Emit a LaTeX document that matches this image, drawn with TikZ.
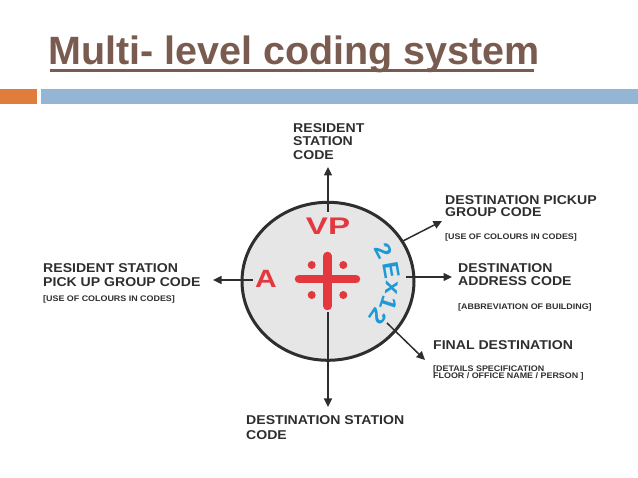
\documentclass[tikz,border=0pt]{standalone}
\usepackage{fontspec}
\usepackage{graphicx}
\setmainfont{Liberation Sans}
\newfontfamily\widefont[FakeStretch=1.1]{Liberation Sans}
\usetikzlibrary{arrows.meta,shapes.geometric}
\definecolor{titlebrown}{HTML}{7A5B4F}
\definecolor{barorange}{HTML}{E07D3C}
\definecolor{barblue}{HTML}{94B5D3}
\definecolor{txt}{HTML}{2E2E2E}
\definecolor{codered}{HTML}{E2383E}
\definecolor{codeblue}{HTML}{1C9AD6}
\definecolor{discfill}{HTML}{E6E6E6}
\tikzset{
  lab/.style={font=\widefont\bfseries\fontsize{12.8}{#1}\selectfont, text=txt, align=left, inner sep=0pt, anchor=north west},
  note/.style={font=\widefont\bfseries\fontsize{8.1}{#1}\selectfont, text=txt, align=left, inner sep=0pt, anchor=north west},
  conn/.style={draw=txt, line width=1.5pt, -{Triangle[length=8.5pt,width=8pt]}},
  bluech/.style={font=\widefont\bfseries\fontsize{22.5}{23}\selectfont, text=codeblue, inner sep=0pt},
  redch/.style={font=\bfseries\fontsize{24}{24}\selectfont, text=codered, inner sep=0pt},
  reddot/.style={fill=codered, draw=none}
}
\begin{document}
\begin{tikzpicture}[x=1pt,y=-1pt]
\useasboundingbox (0,0) rectangle (638,478);
% title
\node[font=\bfseries\fontsize{39.5}{40}\selectfont, text=titlebrown, anchor=base west, inner sep=0pt] (title) at (48,65) {Multi- level coding system};
\fill[titlebrown] (50,69) rectangle (534,72.5);
% bars
\fill[barorange] (0,89.5) rectangle (37,104.5);
\fill[barblue] (40.5,89.5) rectangle (638,104.5);
% disc
\node[ellipse, draw=txt, line width=3pt, fill=discfill, minimum width=172pt, minimum height=158pt, inner sep=0pt] (disc) at (328,281.3) {};
% connector ends
\coordinate (tS) at (328,212);
\coordinate (tE) at (328,167);
\coordinate (bS) at (328,312);
\coordinate (bE) at (328,407);
\coordinate (lS) at (253,280);
\coordinate (lE) at (213,280);
\coordinate (rS) at (406,277);
\coordinate (rE) at (452,277);
\coordinate (urS) at (401,242);
\coordinate (urE) at (442,221);
\coordinate (lrS) at (387,323);
\coordinate (lrE) at (425,360);
\draw[conn] (tS) -- (tE);
\draw[conn] (bS) -- (bE);
\draw[conn] (lS) -- (lE);
\draw[conn] (rS) -- (rE);
\draw[conn] (urS) -- (urE);
\draw[conn] (lrS) -- (lrE);
% red symbols
\node[redch] (vp) at (328,226) {\scalebox{1.38}[1]{VP}};
\node[redch, font=\bfseries\fontsize{25}{25}\selectfont] (a) at (266,279) {\scalebox{1.2}[1]{A}};
\draw[codered, line width=8.5pt, line cap=round] (299,279) -- (356,279);
\draw[codered, line width=8.5pt, line cap=round] (327.5,256) -- (327.5,306);
\fill[reddot] (311.7,265) circle (4);
\fill[reddot] (343.3,265) circle (4);
\fill[reddot] (311.7,295) circle (4);
\fill[reddot] (343.3,295) circle (4);
% blue code along arc
\node[bluech, rotate=-62] (b1) at (384,251) {2};
\node[bluech, rotate=-80] (b2) at (392,270.5) {E};
\node[bluech, rotate=-95] (b3) at (391.5,288) {x};
\node[bluech, rotate=-108] (b4) at (389,303) {1};
\node[bluech, rotate=-124] (b5) at (378.5,317) {2};
% labels
\node[lab=13.6] (top) at (293,123) {RESIDENT\\STATION\\CODE};
\node[lab=12.6] (dpg) at (445,195) {DESTINATION PICKUP\\GROUP CODE};
\node[note=8] (dpgn) at (445,233) {[USE OF COLOURS IN CODES]};
\node[lab=13.6] (dac) at (458,263) {DESTINATION\\ADDRESS CODE};
\node[note=8] (dacn) at (458,303) {[ABBREVIATION OF BUILDING]};
\node[lab=13] (fd) at (433,340) {FINAL DESTINATION};
\node[note=7.6] (fdn) at (433,365) {[DETAILS SPECIFICATION\\FLOOR / OFFICE NAME / PERSON ]};
\node[lab=14] (rs) at (43,263) {RESIDENT STATION\\PICK UP GROUP CODE};
\node[note=8] (rsn) at (43,295) {[USE OF COLOURS IN CODES]};
\node[lab=15] (dsc) at (246,415) {DESTINATION STATION\\CODE};
\end{tikzpicture}
\end{document}
